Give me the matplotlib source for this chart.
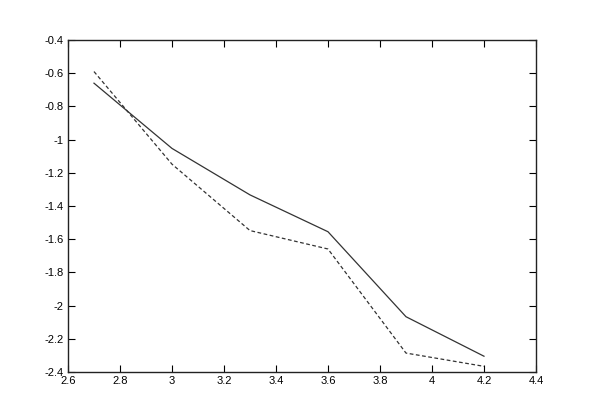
import matplotlib
matplotlib.use("Agg")
from matplotlib import pyplot as plt

x = [2.7, 3.0, 3.3, 3.6, 3.9, 4.2]
solid = [-0.66, -1.053, -1.333, -1.555, -2.067, -2.305]
dashed = [-0.59, -1.148, -1.548, -1.659, -2.286, -2.366]

xticks = [2.6, 2.8, 3.0, 3.2, 3.4, 3.6, 3.8, 4.0, 4.2, 4.4]
xlabels = ["2.6", "2.8", "3", "3.2", "3.4", "3.6", "3.8", "4", "4.2", "4.4"]
yticks = [-2.4, -2.2, -2.0, -1.8, -1.6, -1.4, -1.2, -1.0, -0.8, -0.6, -0.4]
ylabels = ["-2.4", "-2.2", "-2", "-1.8", "-1.6", "-1.4", "-1.2", "-1", "-0.8", "-0.6", "-0.4"]

plt.rcParams['font.family'] = ['Liberation Sans', 'DejaVu Sans']
fig = plt.figure(figsize=(6, 4.16), dpi=100)
ax = fig.add_axes([0.1133, 0.1058, 0.78, 0.798])

ax.plot(x, solid, c='#333333', lw=0.9)
ax.plot(x, dashed, c='#333333', lw=0.9, ls=(0, (3, 2)))

ax.set_xlim(2.6, 4.4)
ax.set_ylim(-2.4, -0.4)
ax.set_xticks(xticks)
ax.set_xticklabels(xlabels)
ax.set_yticks(yticks)
ax.set_yticklabels(ylabels)
ax.tick_params(direction='in', top=True, right=True, length=5, width=0.8,
               labelsize=8, pad=3)
for s in ax.spines.values():
    s.set_linewidth(1.0)
    s.set_color('#222222')

fig.savefig("out.png", dpi=100)
